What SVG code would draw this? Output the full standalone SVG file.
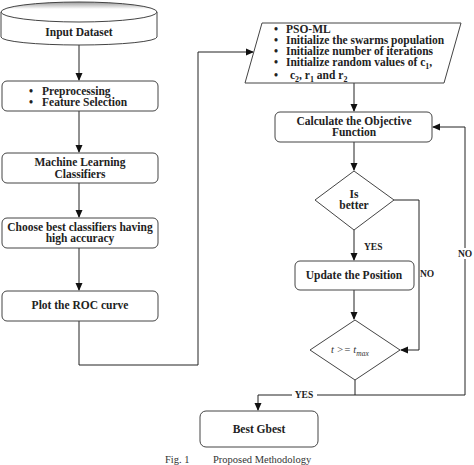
<svg xmlns="http://www.w3.org/2000/svg" width="474" height="465" viewBox="0 0 474 465">
<defs>
<marker id="ah" markerWidth="8" markerHeight="8" refX="7" refY="4" orient="auto" markerUnits="userSpaceOnUse">
<path d="M0,0.5 L8,4 L0,7.5 Z" fill="#111"/>
</marker>
<linearGradient id="cyl" x1="0" y1="0" x2="0" y2="1">
<stop offset="0" stop-color="#9a9a9a"/>
<stop offset="0.35" stop-color="#ffffff"/>
</linearGradient>
</defs>
<style>
.box{fill:#fff;stroke:#444;stroke-width:1}
.t{font-family:"Liberation Serif","Times New Roman",serif;font-weight:bold;font-size:11.5px;fill:#222}
.c{text-anchor:middle}
.ln{fill:none;stroke:#222;stroke-width:1}
.lbl{font-family:"Liberation Serif","Times New Roman",serif;font-weight:bold;font-size:9.5px;fill:#222}
.cap{font-family:"Liberation Serif","Times New Roman",serif;font-size:10.5px;fill:#333}
</style>
<rect width="474" height="465" fill="#fff"/>

<g id="connectors">
<path class="ln" d="M79,45 V80" marker-end="url(#ah)"/>
<path class="ln" d="M79,111 V152" marker-end="url(#ah)"/>
<path class="ln" d="M79,183 V217" marker-end="url(#ah)"/>
<path class="ln" d="M79,248 V290" marker-end="url(#ah)"/>
<path class="ln" d="M79,321 V365 H198 V52 H253" marker-end="url(#ah)"/>
<path class="ln" d="M354,83 V111" marker-end="url(#ah)"/>
<path class="ln" d="M354,142 V170" marker-end="url(#ah)"/>
<path class="ln" d="M354,230 V260" marker-end="url(#ah)"/>
<path class="ln" d="M354,290 V319" marker-end="url(#ah)"/>
<path class="ln" d="M394,200 H419 V350 H401" marker-end="url(#ah)"/>
<path class="ln" d="M355,380 V395 H465 V127 H433" marker-end="url(#ah)"/>
<path class="ln" d="M355,395 H258 V410" marker-end="url(#ah)"/>
<text class="lbl" x="364" y="250">YES</text>
<text class="lbl" x="420" y="277">NO</text>
<rect x="455" y="248" width="20" height="11" fill="#fff"/>
<text class="lbl c" x="465" y="257">NO</text>
<rect x="292" y="390" width="25" height="10" fill="#fff"/>
<text class="lbl c" x="304" y="398">YES</text>
</g>

<g id="input-dataset">
<path d="M1,12 V37 A78,8 0 0 0 157,37 V12" fill="#fff" stroke="#444"/>
<ellipse cx="79" cy="12" rx="78" ry="10" fill="url(#cyl)" stroke="#444"/>
<text class="t c" x="79" y="36">Input Dataset</text>
</g>

<g id="preprocessing">
<rect class="box" x="2" y="81" width="156" height="30" rx="5"/>
<text class="t" x="29" y="95">•</text>
<text class="t" x="42" y="95">Preprocessing</text>
<text class="t" x="29" y="106">•</text>
<text class="t" x="42" y="106">Feature Selection</text>
</g>

<g id="ml-classifiers">
<rect class="box" x="2" y="153" width="156" height="30" rx="5"/>
<text class="t c" x="80" y="166">Machine Learning</text>
<text class="t c" x="80" y="178">Classifiers</text>
</g>

<g id="choose-best">
<rect class="box" x="2" y="218" width="156" height="30" rx="5"/>
<text class="t c" x="80" y="231">Choose best classifiers having</text>
<text class="t c" x="80" y="242">high accuracy</text>
</g>

<g id="plot-roc">
<rect class="box" x="2" y="291" width="156" height="30" rx="5"/>
<text class="t c" x="80" y="309">Plot the ROC curve</text>
</g>

<g id="pso-ml">
<polygon class="box" points="262,23 461,23 444,83 245,83"/>
<text class="t" x="274" y="33">•</text>
<text class="t" x="286" y="33">PSO-ML</text>
<text class="t" x="274" y="44">•</text>
<text class="t" x="286" y="44">Initialize the swarms population</text>
<text class="t" x="274" y="55">•</text>
<text class="t" x="286" y="55">Initialize number of iterations</text>
<text class="t" x="274" y="66">•</text>
<text class="t" x="286" y="66">Initialize random values of c<tspan font-size="8" dy="2.5">1</tspan><tspan dy="-2.5">,</tspan></text>
<text class="t" x="274" y="79">•</text>
<text class="t" x="290" y="79">c<tspan font-size="8" dy="2.5">2</tspan><tspan dy="-2.5">, r</tspan><tspan font-size="8" dy="2.5">1</tspan><tspan dy="-2.5"> and r</tspan><tspan font-size="8" dy="2.5">2</tspan></text>
</g>

<g id="calc-objective">
<rect class="box" x="275" y="112" width="157" height="30" rx="5"/>
<text class="t c" x="354" y="125">Calculate the Objective</text>
<text class="t c" x="354" y="136">Function</text>
</g>

<g id="is-better">
<polygon class="box" points="354,171 394,200 354,230 315,200"/>
<text class="t c" x="354" y="198">Is</text>
<text class="t c" x="354" y="209">better</text>
</g>

<g id="update-position">
<rect class="box" x="295" y="261" width="119" height="29" rx="5"/>
<text class="t c" x="354" y="279">Update the Position</text>
</g>

<g id="t-max">
<polygon class="box" points="355,320 400,350 355,380 310,350"/>
<text x="331" y="353" font-family="Liberation Serif, serif" font-style="italic" font-size="10.5" fill="#333">t &gt;= t<tspan font-size="7.5" dy="2.5">max</tspan></text>
</g>

<g id="best-gbest">
<rect class="box" x="200" y="411" width="118" height="36" rx="6"/>
<text class="t c" x="259" y="433">Best Gbest</text>
</g>

<g id="caption">
<text class="cap" x="165" y="463">Fig. 1</text>
<text class="cap" x="213" y="463">Proposed Methodology</text>
</g>
</svg>
